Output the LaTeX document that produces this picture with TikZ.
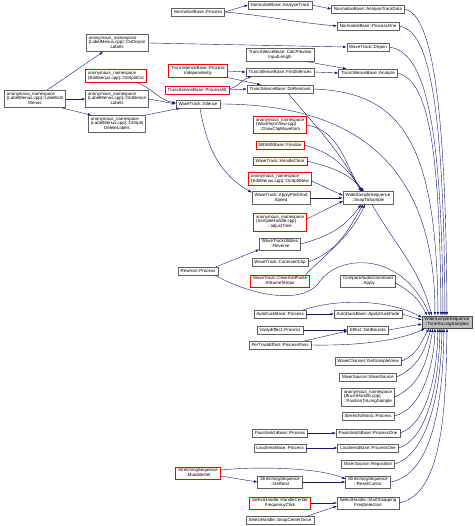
\documentclass[tikz,border=0pt]{standalone}
\usepackage{fontspec}
\setmainfont{Liberation Sans}
\usetikzlibrary{arrows.meta}

\definecolor{edgeblue}{HTML}{191970}

% first lines flush left, last line centred
\newcommand{\fnl}[2]{\begin{tabular}{@{}l@{}}#1\\\multicolumn{1}{@{}c@{}}{#2}\end{tabular}}

\tikzset{
  fn/.style={draw=gray!75!black, fill=white, font=\fontsize{4.4}{4.8}\selectfont,
    inner xsep=2.5pt, inner ysep=1.5pt, minimum height=8pt, line width=0.4pt},
  fnred/.style={fn, draw=red},
  fnmain/.style={fn, fill=gray!50, draw=gray!60!black},
  call/.style={->, draw=edgeblue, line width=0.4pt}
}

\begin{document}
\begin{tikzpicture}[x=1pt, y=1pt, >={Latex[length=3.5pt,width=2.6pt]}]
		\useasboundingbox[fill=white] (0,0) rectangle (474,-526);

		% Left column
		\node[fn] (lem) at (35,-99) {\fnl{anonymous\_namespace\\\{LabelMenus.cpp\}::LabelEdit}{Menus}};
		\node[fn] (odl) at (117,-43) {\fnl{anonymous\_namespace\\\{LabelMenus.cpp\}::OnDisjoin}{Labels}};
		\node[fnred] (osc) at (116,-76) {\fnl{anonymous\_namespace}{\{EditMenus.cpp\}::OnSplitCut}};
		\node[fn] (osl) at (117,-99) {\fnl{anonymous\_namespace\\\{LabelMenus.cpp\}::OnSilence}{Labels}};
		\node[fn] (osd) at (117,-124) {\fnl{anonymous\_namespace\\\{LabelMenus.cpp\}::OnSplit}{DeleteLabels}};

		% Second column
		\node[fn] (nbp) at (198,-12) {NormalizeBase::Process};
		\node[fnred] (tpi) at (198,-71) {\fnl{TruncSilenceBase::Process}{Independently}};
		\node[fnred] (tpa) at (197,-90) {TruncSilenceBase::ProcessAll};
		\node[fn] (wts) at (198,-104) {WaveTrack::Silence};
		\node[fn] (rvp) at (198,-271) {Reverse::Process};
		\node[fnred] (smg) at (198,-473) {\fnl{StretchingSequence}{::MutableGet}};

		% Third column
		\node[fn] (nat) at (280,-5) {NormalizeBase::AnalyseTrack};
		\node[fn] (cpi) at (280,-55) {\fnl{TruncSilenceBase::CalcPreview}{InputLength}};
		\node[fn] (tfs) at (280,-72) {TruncSilenceBase::FindSilences};
		\node[fn] (tdr) at (280,-89) {TruncSilenceBase::DoRemoval};
		\node[fnred] (dcw) at (280,-125) {\fnl{anonymous\_namespace\\\{WaveformView.cpp\}}{::DrawClipWaveform}};
		\node[fnred] (sbf) at (280,-145) {SBSMSBase::Finalize};
		\node[fnred] (whc) at (280,-161) {WaveTrack::HandleClear};
		\node[fnred] (osn) at (280,-179) {\fnl{anonymous\_namespace}{\{EditMenus.cpp\}::OnSplitNew}};
		\node[fn] (aps) at (281,-198) {\fnl{WaveTrack::ApplyPitchAnd}{Speed}};
		\node[fnred] (adj) at (280,-222) {\fnl{anonymous\_namespace\\\{SampleHandle.cpp\}}{::adjustTime}};
		\node[fn] (wur) at (280,-244) {\fnl{WaveTrackUtilities}{::Reverse}};
		\node[fn] (cic) at (280,-262) {WaveTrack::CanInsertClip};
		\node[fnred] (cap) at (280,-281) {\fnl{WaveTrack::ClearAndPaste}{AtSameTempo}};
		\node[fn] (adp) at (280,-314) {AutoDuckBase::Process};
		\node[fn] (vep) at (280,-330) {VampEffect::Process};
		\node[fn] (ppp) at (280,-345) {PerTrackEffect::ProcessPass};
		\node[fn] (pbp) at (280,-433) {PaulstretchBase::Process};
		\node[fn] (lbp) at (280,-448) {LoudnessBase::Process};
		\node[fn] (sgn) at (280,-482) {\fnl{StretchingSequence}{::GetNext}};
		\node[fnred] (hcf) at (280,-503) {\fnl{SelectHandle::HandleCenter}{FrequencyClick}};
		\node[fn] (sco) at (280,-520) {SelectHandle::SnapCenterOnce};

		% Fourth column
		\node[fn] (atd) at (368,-9) {NormalizeBase::AnalyseTrackData};
		\node[fn] (npo) at (368,-26) {NormalizeBase::ProcessOne};
		\node[fn] (wtd) at (368,-47) {WaveTrack::Disjoin};
		\node[fn] (tsa) at (368,-73) {TruncSilenceBase::Analyze};
		\node[fn] (sts) at (368,-198) {\fnl{WideSampleSequence}{::SnapToSample}};
		\node[fn] (cac) at (368,-281) {\fnl{CompareAudioCommand}{::Apply}};
		\node[fn] (adf) at (368,-314) {AutoDuckBase::ApplyDuckFade};
		\node[fn] (egb) at (368,-330) {Effect::GetBounds};
		\node[fn] (gsv) at (368,-361) {WaveChannel::GetSampleView};
		\node[fn] (mms) at (368,-377) {MixerSource::MixerSource};
		\node[fn] (pls) at (368,-397) {\fnl{anonymous\_namespace\\\{BrushHandle.cpp\}}{::PositionToLongSample}};
		\node[fn] (stm) at (368,-416) {StereoToMono::Process};
		\node[fn] (ppo) at (368,-433) {PaulstretchBase::ProcessOne};
		\node[fn] (lpo) at (368,-448) {LoudnessBase::ProcessOne};
		\node[fn] (mrp) at (368,-464) {MixerSource::Reposition};
		\node[fn] (src) at (368,-482) {\fnl{StretchingSequence}{::ResetCursor}};
		\node[fn] (ssf) at (368,-503) {\fnl{SelectHandle::StartSnapping}{FreqSelection}};

		% The function itself
		\node[fnmain] (ttl) at (447,-322) {\fnl{WideSampleSequence}{::TimeToLongSamples}};

		% Label menus
		\draw[call] ([xshift=12pt]lem.north) -- ([xshift=-14pt]odl.south);
		\draw[call] (lem.east) -- (osl.west);
		\draw[call] ([xshift=-4pt]lem.south east) -- ([xshift=3pt]osd.north west);
		\draw[call] (odl.east) -- (wtd.west);
		\draw[call] ([xshift=-10pt]osc.south east) to[out=-20,in=170] ([yshift=1pt]wts.west);
		\draw[call] (osl.east) -- (wts.west);
		\draw[call] (osd.north east) -- ([xshift=4pt]wts.south west);

		% Normalize and truncate silence
		\draw[call] (nbp.east) -- (nat.west);
		\draw[call] (nbp.east) to[out=-5,in=175] (npo.west);
		\draw[call] (nat.east) -- (atd.west);
		\draw[call] (tpi.east) -- (tfs.west);
		\draw[call] (tpi.south east) -- ([xshift=14pt]tdr.north west);
		\draw[call] (tpa.east) -- (tdr.west);
		\draw[call] ([yshift=1pt]tpa.east) to[out=15,in=200] ([xshift=6pt]tfs.south west);
		\draw[call] ([xshift=-8pt]cpi.south east) -- ([xshift=8pt]tsa.north west);
		\draw[call] (tfs.east) -- (tsa.west);

		% Snap to sample
		\draw[call] ([xshift=2pt]wts.south) to[out=-80,in=150] ([yshift=-1pt]aps.north west);
		\draw[call] ([xshift=8pt]tdr.south) to[out=-50,in=118] ([xshift=-7pt]sts.north);
		\draw[call] (dcw.east) to[out=-10,in=122] ([xshift=-6pt]sts.north);
		\draw[call] (sbf.east) to[out=-15,in=125] ([xshift=-5pt]sts.north);
		\draw[call] (whc.east) to[out=-15,in=130] ([xshift=-4pt]sts.north);
		\draw[call] ([yshift=-2pt]osn.east) -- ([yshift=2.5pt]sts.west);
		\draw[call] (aps.east) -- (sts.west);
		\draw[call] ([yshift=3pt]adj.east) -- ([yshift=-3pt]sts.west);
		\draw[call] (wur.east) to[out=15,in=-125] ([xshift=-7pt]sts.south);
		\draw[call] (cic.east) to[out=20,in=-120] ([xshift=-5pt]sts.south);
		\draw[call] ([xshift=-4pt]cap.north east) to[out=45,in=-115] ([xshift=-3pt]sts.south);
		\draw[call] ([xshift=-2pt]rvp.north east) -- ([yshift=1pt]wur.south west);

		% Into TimeToLongSamples from above
		\draw[call] (atd.east) .. controls (425,-14) and (446,-60) .. ([xshift=25pt]ttl.north west);
		\draw[call] (npo.east) .. controls (425,-30) and (444,-80) .. ([xshift=23pt]ttl.north west);
		\draw[call] (wtd.east) .. controls (420,-52) and (442,-100) .. ([xshift=21pt]ttl.north west);
		\draw[call] (tsa.east) .. controls (425,-80) and (440,-130) .. ([xshift=19pt]ttl.north west);
		\draw[call] (tdr.east) .. controls (400,-92) and (437,-140) .. ([xshift=16pt]ttl.north west);
		\draw[call] (wts.east) .. controls (350,-104) and (435,-160) .. ([xshift=13pt]ttl.north west);
		\draw[call] ([xshift=4pt]sts.south) to[out=-60,in=105] ([xshift=10pt]ttl.north west);
		\draw[call] ([xshift=-3pt]rvp.south east) .. controls (250,-295) and (300,-305) .. (318,-284)
		  .. controls (335,-255) and (400,-248) .. ([xshift=8pt]ttl.north west);
		\draw[call] ([yshift=-2pt]cac.east) to[out=-30,in=115] ([xshift=5pt]ttl.north west);

		% From the left
		\draw[call] (adp.east) -- (adf.west);
		\draw[call] ([xshift=-3pt]adp.north east) .. controls (340,-298) and (390,-300) .. ([yshift=-2pt]ttl.north west);
		\draw[call] (adf.east) -- ([yshift=-4.5pt]ttl.north west);
		\draw[call] (vep.east) -- (egb.west);
		\draw[call] ([xshift=-6pt]ppp.north east) -- ([yshift=-1pt]egb.west);
		\draw[call] (egb.east) -- ([yshift=-2pt]ttl.west);
		\draw[call] (ppp.east) .. controls (370,-346) and (405,-338) .. ([xshift=3pt]ttl.south west);

		% From below
		\draw[call] (gsv.east) to[out=20,in=-120] ([xshift=7pt]ttl.south west);
		\draw[call] (mms.east) to[out=25,in=-105] ([xshift=9pt]ttl.south west);
		\draw[call] (pls.east) to[out=25,in=-100] ([xshift=11pt]ttl.south west);
		\draw[call] (stm.east) .. controls (420,-410) and (434,-370) .. ([xshift=13pt]ttl.south west);
		\draw[call] (ppo.east) .. controls (425,-425) and (437,-380) .. ([xshift=16pt]ttl.south west);
		\draw[call] (lpo.east) .. controls (425,-440) and (439,-390) .. ([xshift=18pt]ttl.south west);
		\draw[call] (mrp.east) .. controls (425,-455) and (441,-400) .. ([xshift=20pt]ttl.south west);
		\draw[call] (src.east) .. controls (430,-475) and (443,-410) .. ([xshift=22pt]ttl.south west);
		\draw[call] (ssf.east) .. controls (440,-495) and (446,-420) .. ([xshift=25pt]ttl.south west);

		% Lower callers
		\draw[call] (pbp.east) -- (ppo.west);
		\draw[call] (lbp.east) -- (lpo.west);
		\draw[call] ([yshift=-3pt]smg.east) -- (sgn.west);
		\draw[call] ([yshift=3pt]smg.east) .. controls (260,-466) and (320,-468) .. ([yshift=3pt]src.west);
		\draw[call] (sgn.east) -- (src.west);
		\draw[call] (hcf.east) -- (ssf.west);
		\draw[call] ([xshift=-6pt]sco.north east) -- ([yshift=-3pt]ssf.west);
	\end{tikzpicture}
\end{document}
